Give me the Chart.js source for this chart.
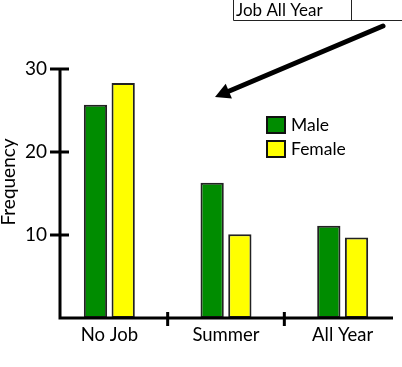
<!DOCTYPE html>
<html>
<head>
<meta charset="utf-8">
<script src="https://cdn.jsdelivr.net/npm/chart.js@4/dist/chart.umd.min.js"></script>
<style>
html, body { margin: 0; padding: 0; background: #fff; }
#wrap { width: 402px; height: 367px; }
</style>
</head>
<body>
<div id="wrap"><canvas id="chart" width="402" height="367"></canvas></div>
<script>
"use strict";
/* DATA */
const categories = ["No Job", "Summer", "All Year"];
const maleValues = [25.7, 16.3, 11.1];
const femaleValues = [28.3, 10.1, 9.7];
const seriesNames = ["Male", "Female"];
const yTicks = [10, 20, 30];
const tableText = "Job All Year";

const FONT = "Lato, 'DejaVu Sans', sans-serif";
const GREEN = "#008c00";
const YELLOW = "#ffff00";

/* AXES, TICKS, LEGEND, NOTES */
const decorPlugin = {
    id: "decor",
    afterDatasetsDraw(chart) {
        const { ctx, chartArea, scales } = chart;
        const x = scales.x;
        const y = scales.y;
        const axisX = chartArea.left + 9;
        const base = y.getPixelForValue(0);
        ctx.save();
        ctx.strokeStyle = "#000";
        ctx.lineWidth = 3;
        ctx.beginPath();
        ctx.moveTo(axisX, y.getPixelForValue(30) - 1);
        ctx.lineTo(axisX, base);
        ctx.lineTo(chartArea.right - 8, base);
        ctx.stroke();
        // y ticks
        yTicks.forEach(v => {
            const py = y.getPixelForValue(v);
            ctx.beginPath();
            ctx.moveTo(axisX - 10, py);
            ctx.lineTo(axisX + 9, py);
            ctx.stroke();
        });
        // x ticks between categories
        for (let i = 1; i < categories.length; i++) {
            const px = (x.getPixelForValue(i - 1) + x.getPixelForValue(i)) / 2;
            ctx.beginPath();
            ctx.moveTo(px, base - 6);
            ctx.lineTo(px, base + 8);
            ctx.stroke();
        }
        // y title
        ctx.fillStyle = "#000";
        ctx.font = "19px " + FONT;
        ctx.save();
        ctx.translate(9, 182);
        ctx.rotate(-Math.PI / 2);
        ctx.textAlign = "center";
        ctx.textBaseline = "middle";
        ctx.fillText("Frequency", 0, 0);
        ctx.restore();
        // legend
        const colores = [GREEN, YELLOW];
        ctx.font = "17.5px " + FONT;
        ctx.textAlign = "left";
        ctx.textBaseline = "middle";
        seriesNames.forEach((nombre, i) => {
            const ly = 117 + i * 24;
            ctx.fillStyle = colores[i];
            ctx.fillRect(267, ly, 18, 16);
            ctx.lineWidth = 2;
            ctx.strokeStyle = "#111";
            ctx.strokeRect(267, ly, 18, 16);
            ctx.fillStyle = "#000";
            ctx.fillText(nombre, 291, ly + 8);
        });
        // table fragment at top
        ctx.font = "17px " + FONT;
        ctx.lineWidth = 1;
        ctx.strokeStyle = "#222";
        ctx.beginPath();
        ctx.moveTo(233.5, 0);
        ctx.lineTo(233.5, 20.5);
        ctx.lineTo(402, 20.5);
        ctx.moveTo(351.5, 0);
        ctx.lineTo(351.5, 20.5);
        ctx.stroke();
        ctx.textBaseline = "alphabetic";
        ctx.fillText(tableText, 236, 16);
        // arrow
        const x1 = 383, y1 = 26, tx = 215, ty = 97;
        const len = Math.hypot(tx - x1, ty - y1);
        const ux = (tx - x1) / len, uy = (ty - y1) / len;
        const bx = tx - ux * 15, by = ty - uy * 15;
        ctx.lineWidth = 5;
        ctx.strokeStyle = "#000";
        ctx.lineCap = "round";
        ctx.beginPath();
        ctx.moveTo(x1, y1);
        ctx.lineTo(bx + ux * 2, by + uy * 2);
        ctx.stroke();
        ctx.beginPath();
        ctx.moveTo(tx, ty);
        ctx.lineTo(bx - uy * 8, by + ux * 8);
        ctx.lineTo(bx + uy * 8, by - ux * 8);
        ctx.closePath();
        ctx.fill();
        ctx.restore();
    }
};

new Chart(document.getElementById("chart"), {
    type: "bar",
    data: {
        labels: categories,
        datasets: [
            {
                label: seriesNames[0],
                data: maleValues,
                backgroundColor: GREEN,
                borderColor: "#222",
                borderWidth: 2,
                borderSkipped: false
            },
            {
                label: seriesNames[1],
                data: femaleValues,
                backgroundColor: YELLOW,
                borderColor: "#222",
                borderWidth: 2,
                borderSkipped: false
            }
        ]
    },
    options: {
        responsive: false,
        animation: false,
        devicePixelRatio: 1,
        categoryPercentage: 0.475,
        barPercentage: 0.84,
        layout: { padding: { top: 69, right: 1, left: 0, bottom: 0 } },
        plugins: {
            legend: { display: false },
            tooltip: { enabled: false }
        },
        scales: {
            x: {
                offset: true,
                grid: { display: false, drawTicks: false },
                border: { display: false },
                ticks: {
                    color: "#000",
                    font: { family: FONT, size: 18.5 },
                    padding: 6,
                    maxRotation: 0
                },
                afterFit: s => { s.height = 49; }
            },
            y: {
                min: 0,
                max: 30,
                grid: { display: false, drawTicks: false },
                border: { display: false },
                ticks: {
                    color: "#000",
                    font: { family: FONT, size: 19 },
                    padding: 4
                },
                afterBuildTicks: s => { s.ticks = yTicks.map(v => ({ value: v })); },
                afterFit: s => { s.width = 51; }
            }
        }
    },
    plugins: [decorPlugin]
});
</script>
</body>
</html>
